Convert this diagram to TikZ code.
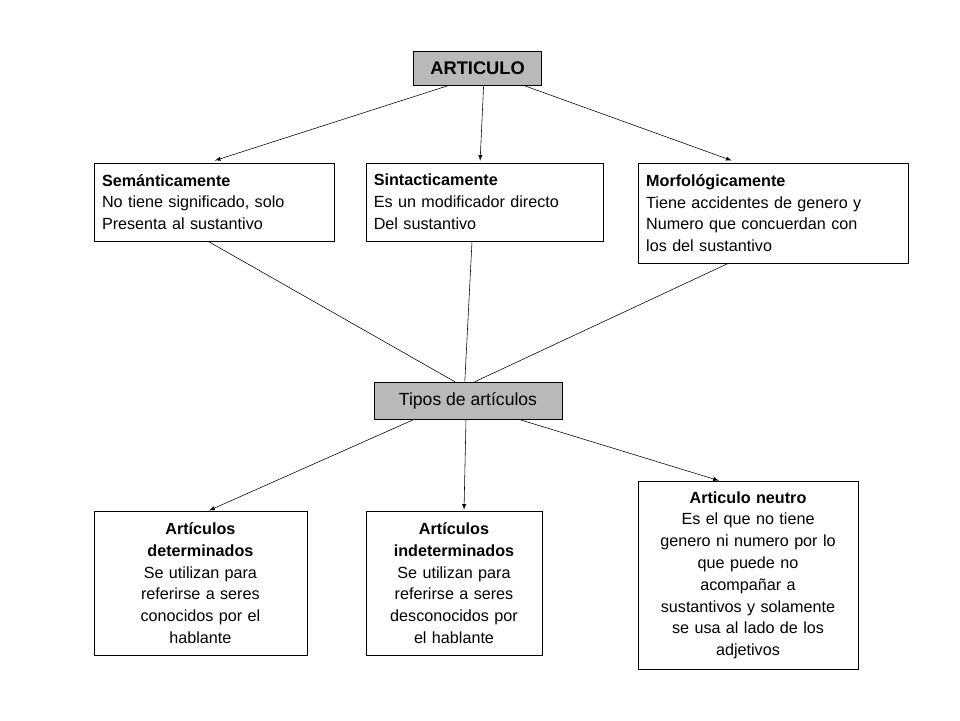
\documentclass[tikz,border=0pt]{standalone}
\usepackage{fontspec}
\setmainfont{Liberation Sans}
\usetikzlibrary{positioning}
\tikzset{
  caja/.style={draw, thin, inner sep=0.2cm, font=\fontsize{11.5}{15.5}\selectfont},
  titulo/.style={caja, fill=gray!55, font=\fontsize{13}{16}\selectfont},
  flecha/.style={-latex, thin}
}
\begin{document}
\begin{tikzpicture}
    \useasboundingbox (0,0) rectangle (24,-18);
    % raiz
    \node[titulo, minimum width=3.2cm, minimum height=0.85cm] (art) at (11.94,-1.71) {\textbf{ARTICULO}};

    % primer nivel
    \node[caja, text width=5.6cm, minimum height=1.95cm, align=left] (sem) at (5.35,-5.05)
        {\textbf{Semánticamente}\\No tiene significado, solo\\Presenta al sustantivo};
    \node[caja, text width=5.53cm, minimum height=1.95cm, align=left] (sin) at (12.11,-5.05)
        {\textbf{Sintacticamente}\\Es un modificador directo\\Del sustantivo};
    \node[caja, text width=6.35cm, minimum height=2.5cm, align=left] (mor) at (19.33,-5.33)
        {\textbf{Morfológicamente}\\Tiene accidentes de genero y\\Numero que concuerdan con\\los del sustantivo};

    % nodo central
    \node[titulo, minimum width=4.7cm, minimum height=0.92cm, font=\fontsize{12.5}{15}\selectfont] (tip) at (11.7,-10.01) {Tipos de artículos};

    % segundo nivel
    \node[caja, text width=4.93cm, minimum height=3.6cm, align=center] (det) at (5.01,-14.58)
        {\textbf{Artículos}\\\textbf{determinados}\\Se utilizan para\\referirse a seres\\conocidos por el\\hablante};
    \node[caja, text width=4pt, text width=4cm, minimum height=3.6cm, align=center] (ind) at (11.35,-14.58)
        {\textbf{Artículos}\\\textbf{indeterminados}\\Se utilizan para\\referirse a seres\\desconocidos por\\el hablante};
    \node[caja, text width=5.1cm, minimum height=4.7cm, align=center] (neu) at (18.7,-14.38)
        {\textbf{Articulo neutro}\\Es el que no tiene\\genero ni numero por lo\\que puede no\\acompañar a\\sustantivos y solamente\\se usa al lado de los\\adjetivos};

    % flechas desde la raiz
    \draw[flecha, shorten >=0.18cm] ([xshift=-0.74cm]art.south) -- ([xshift=-0.15cm]sem.north);
    \draw[flecha, shorten >=0.05cm] ([xshift=0.15cm]art.south) -- ([xshift=-0.11cm]sin.north);
    \draw[flecha, shorten >=0.18cm] ([xshift=1.17cm]art.south) -- ([xshift=-0.87cm]mor.north);

    % lineas hacia tipos
    \draw ([xshift=-0.15cm]sem.south) -- ([xshift=-0.33cm]tip.north);
    \draw ([xshift=-0.31cm]sin.south) -- ([xshift=-0.08cm]tip.north);
    \draw ([xshift=-1.13cm]mor.south) -- ([xshift=0.17cm]tip.north);

    % flechas desde tipos
    \draw[flecha, shorten >=0.03cm] ([xshift=-1.33cm]tip.south) -- ([xshift=0.19cm]det.north);
    \draw[flecha, shorten >=0.03cm] ([xshift=-0.05cm]tip.south) -- ([xshift=0.25cm]ind.north);
    \draw[flecha, shorten >=0.03cm] ([xshift=1.25cm]tip.south) -- ([xshift=-0.7cm]neu.north);
\end{tikzpicture}
\end{document}
